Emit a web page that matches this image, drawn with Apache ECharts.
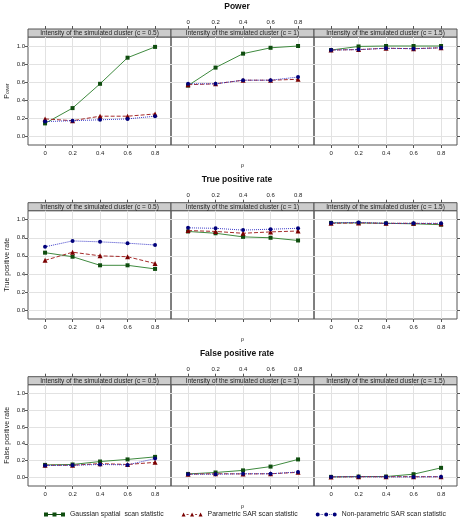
<!DOCTYPE html>
<html>
<head>
<meta charset="utf-8">
<script src="https://cdn.jsdelivr.net/npm/echarts@6/dist/echarts.min.js"></script>
<style>
  html, body { margin: 0; padding: 0; background: #fff; }
  #chart { width: 474px; height: 521px; }
</style>
</head>
<body>
<div id="chart"></div>
<script>
// data
const rho = [0, 0.2, 0.4, 0.6, 0.8];
const xTicks = [0, 0.2, 0.4, 0.6, 0.8];
const yTicks = [0, 0.2, 0.4, 0.6, 0.8, 1.0];
const clusters = ['c = 0.5', 'c = 1', 'c = 1.5'];
const rowTitles = ['Power', 'True positive rate', 'False positive rate'];
const seriesNames = ['Gaussian spatial  scan statistic', 'Parametric SAR scan statistic', 'Non-parametric SAR scan statistic'];

// one row per measure, one inner list per cluster intensity
const powGauss = [[0.14, 0.31, 0.58, 0.87, 0.99], [0.56, 0.76, 0.915, 0.98, 1.0], [0.955, 0.995, 1.0, 1.0, 1.0]];
const powPar = [[0.19, 0.17, 0.22, 0.22, 0.245], [0.57, 0.58, 0.62, 0.62, 0.63], [0.955, 0.96, 0.975, 0.97, 0.98]];
const powNon = [[0.16, 0.17, 0.18, 0.19, 0.22], [0.58, 0.58, 0.62, 0.62, 0.655], [0.955, 0.96, 0.975, 0.97, 0.98]];

const tprGauss = [[0.635, 0.59, 0.495, 0.495, 0.455], [0.87, 0.85, 0.81, 0.80, 0.77], [0.965, 0.965, 0.96, 0.955, 0.945]];
const tprPar = [[0.55, 0.64, 0.60, 0.59, 0.515], [0.88, 0.87, 0.85, 0.865, 0.875], [0.96, 0.965, 0.96, 0.96, 0.955]];
const tprNon = [[0.70, 0.765, 0.755, 0.74, 0.72], [0.91, 0.905, 0.885, 0.895, 0.905], [0.965, 0.97, 0.96, 0.96, 0.96]];

const fprGauss = [[0.15, 0.155, 0.19, 0.215, 0.245], [0.043, 0.06, 0.085, 0.13, 0.215], [0.008, 0.012, 0.012, 0.04, 0.115]];
const fprPar = [[0.146, 0.146, 0.165, 0.155, 0.18], [0.04, 0.045, 0.043, 0.045, 0.062], [0.008, 0.01, 0.01, 0.01, 0.01]];
const fprNon = [[0.142, 0.146, 0.155, 0.15, 0.225], [0.04, 0.04, 0.045, 0.045, 0.066], [0.008, 0.01, 0.008, 0.008, 0.01]];

const rowData = [
  [powGauss, powPar, powNon],
  [tprGauss, tprPar, tprNon],
  [fprGauss, fprPar, fprNon]
];

// layout
const panelLeft = [28, 171, 314];
const panelW = 143;
const stripTop = [29, 202.7, 376.7];
const stripH = 8;
const panelBottom = [145, 319, 486];
const titleTop = [2.5, 175.5, 349.5];

const axisCol = '#555';
const gridCol = '#e2e2e2';
const lineCols = ['#3f8a3f', '#a52a2a', '#3b3bc8'];
const markCols = ['#0f4d0f', '#7a0000', '#00007a'];
const symbols = ['rect', 'triangle', 'circle'];
const symSizes = [4, 5, 4];
const lineTypes = ['solid', 'dashed', 'dotted'];

let chart = echarts.init(document.getElementById('chart'));

let grid = [], xAxis = [], yAxis = [], series = [], graphic = [];

const fmtX = v => String(+v.toFixed(1));

for (let r = 0; r < 3; r++) {
  for (let c = 0; c < 3; c++) {
    const gi = grid.length;
    const top = stripTop[r] + stripH;
    grid.push({
      left: panelLeft[c], top: top, width: panelW, height: panelBottom[r] - top,
      show: true, borderColor: axisCol, borderWidth: 1, backgroundColor: 'transparent'
    });

    const bottomX = xAxis.length;
    xAxis.push({
      gridIndex: gi, type: 'value', position: 'bottom', min: -0.124, max: 0.916,
      axisLine: { show: false, onZero: false },
      axisTick: { show: true, customValues: xTicks, length: 3, lineStyle: { color: axisCol } },
      axisLabel: { show: c !== 1, customValues: xTicks, fontSize: 6, margin: 5, color: '#222', formatter: fmtX },
      splitLine: { show: true, lineStyle: { color: gridCol, width: 1 } },
      name: c === 1 ? 'ρ' : '', nameLocation: 'middle', nameGap: 17,
      nameTextStyle: { fontSize: 6, color: '#333' }
    });
    xAxis.push({
      gridIndex: gi, type: 'value', position: 'top', offset: stripH, min: -0.124, max: 0.916,
      axisLine: { show: false, onZero: false },
      axisTick: { show: true, customValues: xTicks, length: 3, lineStyle: { color: axisCol } },
      axisLabel: { show: c === 1, customValues: xTicks, fontSize: 6, margin: 4, color: '#222', formatter: fmtX },
      splitLine: { show: false }
    });

    const leftY = yAxis.length;
    const yName = r === 0 ? '{p|P}{o|ower}' : rowTitles[r];
    yAxis.push({
      gridIndex: gi, type: 'value', position: 'left', min: -0.1, max: 1.1,
      axisLine: { show: false, onZero: false },
      axisTick: { show: c === 0, customValues: yTicks, length: 3, lineStyle: { color: axisCol } },
      axisLabel: { show: c === 0, customValues: yTicks, fontSize: 6, margin: 3, color: '#222',
        formatter: v => v.toFixed(1) },
      splitLine: { show: true, lineStyle: { color: gridCol, width: 1 } },
      name: c === 0 ? yName : '', nameLocation: 'middle', nameGap: 17,
      nameTextStyle: { fontSize: 7, color: '#222',
        rich: { p: { fontSize: 7, color: '#222' }, o: { fontSize: 5, color: '#222' } } }
    });
    if (c === 2) {
      yAxis.push({
        gridIndex: gi, type: 'value', position: 'right', min: -0.1, max: 1.1,
        axisLine: { show: false, onZero: false },
        axisTick: { show: true, customValues: yTicks, length: 3, lineStyle: { color: axisCol } },
        axisLabel: { show: false },
        splitLine: { show: false }
      });
    }

    for (let s = 0; s < 3; s++) {
      const vals = rowData[r][s][c];
      series.push({
        name: seriesNames[s], type: 'line', xAxisIndex: bottomX, yAxisIndex: leftY,
        data: rho.map((x, i) => [x, vals[i]]),
        symbol: symbols[s], symbolSize: symSizes[s], showSymbol: true,
        lineStyle: { color: lineCols[s], width: 1, type: lineTypes[s] },
        itemStyle: { color: markCols[s] },
        emphasis: { disabled: true },
        animation: false, z: 3 + s
      });
    }

    // strip above each panel
    graphic.push({
      type: 'group', z: 10,
      children: [
        { type: 'rect', shape: { x: panelLeft[c], y: stripTop[r], width: panelW, height: stripH },
          style: { fill: '#cccccc', stroke: axisCol, lineWidth: 1 } },
        { type: 'text', x: panelLeft[c] + panelW / 2, y: stripTop[r] + stripH / 2 + 0.5,
          style: { text: 'Intensity of the simulated cluster (' + clusters[c] + ')',
            fontSize: 6.5, fill: '#222', align: 'center', verticalAlign: 'middle',
            fontFamily: 'Liberation Sans' } }
      ]
    });
  }
}

const iconPaths = [
  'path://M0,0.5H4V2H8.5V0.5H12.5V2H17V0.5H21V4.5H17V3H12.5V4.5H8.5V3H4V4.5H0Z',
  'path://M0,4.5L2,0.5L4,4.5Z M5,2.2H7V2.9H5Z M8.5,4.5L10.5,0.5L12.5,4.5Z M13.5,2.2H15.5V2.9H13.5Z M17,4.5L19,0.5L21,4.5Z',
  'path://M0,2.5A2,2 0 1,0 4,2.5A2,2 0 1,0 0,2.5Z M5,2.2H5.8V2.9H5Z M6.6,2.2H7.4V2.9H6.6Z M8.5,2.5A2,2 0 1,0 12.5,2.5A2,2 0 1,0 8.5,2.5Z M13.5,2.2H14.3V2.9H13.5Z M15.1,2.2H15.9V2.9H15.1Z M17,2.5A2,2 0 1,0 21,2.5A2,2 0 1,0 17,2.5Z'
];

let option = {
  animation: false,
  textStyle: { fontFamily: 'Liberation Sans' },
  title: rowTitles.map((t, r) => ({
    text: t, left: 'center', top: titleTop[r], padding: 0,
    textStyle: { fontSize: 8.5, fontWeight: 'bold', color: '#111', fontFamily: 'Liberation Sans' }
  })),
  legend: {
    left: 39, top: 506, itemWidth: 21, itemHeight: 5, itemGap: 18, selectedMode: false,
    textStyle: { fontSize: 6.85, color: '#222' },
    data: seriesNames.map((n, i) => ({ name: n, icon: iconPaths[i], itemStyle: { color: markCols[i] } }))
  },
  grid: grid,
  xAxis: xAxis,
  yAxis: yAxis,
  series: series,
  graphic: graphic
};

option && chart.setOption(option);
</script>
</body>
</html>
